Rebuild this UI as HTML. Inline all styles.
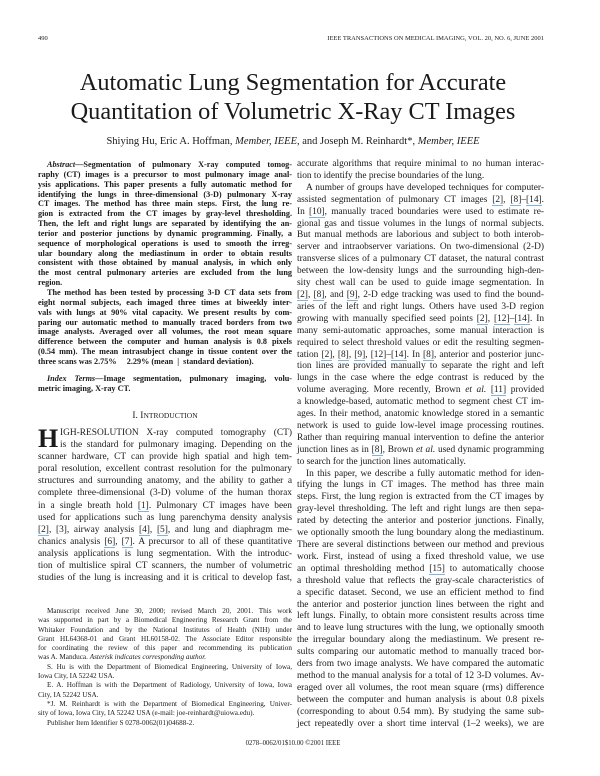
<!DOCTYPE html>
<html><head><meta charset="utf-8">
<style>
html,body{margin:0;padding:0;background:#fff;}
body{width:600px;height:776px;position:relative;overflow:hidden;font-family:"Liberation Serif",serif;color:#1a1a1a;}
.a{position:absolute;}
.c div{white-space:nowrap;text-align:justify;text-align-last:justify;}
.c div.e{text-align:left;text-align-last:left;}
.i{padding-left:9px;}
.r{border-bottom:1px solid #7fb3e0;}
</style></head><body>
<div class="a" style="left:38px;top:35px;font-size:6.5px;">490</div>
<div class="a" style="left:316px;top:35px;width:228px;font-size:6.5px;white-space:nowrap;text-align:right;">IEEE TRANSACTIONS ON MEDICAL IMAGING, VOL. 20, NO. 6, JUNE 2001</div>
<div class="a" style="left:0;width:586px;top:68px;font-size:24.3px;line-height:29px;text-align:center;">Automatic Lung Segmentation for Accurate<br>Quantitation of Volumetric X-Ray CT Images</div>
<div class="a" style="left:0;width:586px;top:136px;font-size:10.5px;text-align:center;white-space:nowrap;">Shiying Hu, Eric A. Hoffman, <i>Member, IEEE</i>, and Joseph M. Reinhardt*, <i>Member, IEEE</i></div>

<div class="a c" style="left:38px;top:160px;width:254px;font-size:8.2px;line-height:9.85px;font-weight:bold;">
<div class="i"><i>Abstract</i>—Segmentation of pulmonary X-ray computed tomog-</div>
<div>raphy (CT) images is a precursor to most pulmonary image anal-</div>
<div>ysis applications. This paper presents a fully automatic method for</div>
<div>identifying the lungs in three-dimensional (3-D) pulmonary X-ray</div>
<div>CT images. The method has three main steps. First, the lung re-</div>
<div>gion is extracted from the CT images by gray-level thresholding.</div>
<div>Then, the left and right lungs are separated by identifying the an-</div>
<div>terior and posterior junctions by dynamic programming. Finally, a</div>
<div>sequence of morphological operations is used to smooth the irreg-</div>
<div>ular boundary along the mediastinum in order to obtain results</div>
<div>consistent with those obtained by manual analysis, in which only</div>
<div>the most central pulmonary arteries are excluded from the lung</div>
<div class="e">region.</div>
<div class="i">The method has been tested by processing 3-D CT data sets from</div>
<div>eight normal subjects, each imaged three times at biweekly inter-</div>
<div>vals with lungs at 90% vital capacity. We present results by com-</div>
<div>paring our automatic method to manually traced borders from two</div>
<div>image analysts. Averaged over all volumes, the root mean square</div>
<div>difference between the computer and human analysis is 0.8 pixels</div>
<div>(0.54 mm). The mean intrasubject change in tissue content over the</div>
<div class="e">three scans was 2.75% &nbsp;&nbsp;&nbsp; 2.29% (mean &nbsp;|&nbsp; standard deviation).</div>
</div>
<div class="a c" style="left:38px;top:374px;width:254px;font-size:8.2px;line-height:10px;font-weight:bold;">
<div class="i"><i>Index Terms</i>—Image segmentation, pulmonary imaging, volu-</div>
<div class="e">metric imaging, X-ray CT.</div>
</div>
<div class="a" style="left:38px;width:254px;top:411px;font-size:9.5px;text-align:center;">I. I<span style="font-size:7.5px">NTRODUCTION</span></div>

<div class="a" style="left:38px;top:426px;font-size:26px;line-height:26px;font-weight:bold;">H</div>
<div class="a c" style="left:38px;top:427px;width:254px;font-size:9.4px;line-height:12.1px;">
<div style="padding-left:22px">IGH-RESOLUTION X-ray computed tomography (CT)</div>
<div style="padding-left:22px">is the standard for pulmonary imaging. Depending on the</div>
<div>scanner hardware, CT can provide high spatial and high tem-</div>
<div>poral resolution, excellent contrast resolution for the pulmonary</div>
<div>structures and surrounding anatomy, and the ability to gather a</div>
<div>complete three-dimensional (3-D) volume of the human thorax</div>
<div>in a single breath hold <span class="r">[1]</span>. Pulmonary CT images have been</div>
<div>used for applications such as lung parenchyma density analysis</div>
<div><span class="r">[2]</span>, [3], airway analysis <span class="r">[4]</span>, <span class="r">[5]</span>, and lung and diaphragm me-</div>
<div>chanics analysis <span class="r">[6]</span>, <span class="r">[7]</span>. A precursor to all of these quantitative</div>
<div>analysis applications is lung segmentation. With the introduc-</div>
<div>tion of multislice spiral CT scanners, the number of volumetric</div>
<div>studies of the lung is increasing and it is critical to develop fast,</div>
</div>

<div class="a c" style="left:38px;top:607px;width:254px;font-size:7.2px;line-height:9.3px;">
<div class="i">Manuscript received June 30, 2000; revised March 20, 2001. This work</div>
<div>was supported in part by a Biomedical Engineering Research Grant from the</div>
<div>Whitaker Foundation and by the National Institutes of Health (NIH) under</div>
<div>Grant HL64368-01 and Grant HL60158-02. The Associate Editor responsible</div>
<div>for coordinating the review of this paper and recommending its publication</div>
<div class="e">was A. Manduca. <i>Asterisk indicates corresponding author.</i></div>
<div class="i">S. Hu is with the Department of Biomedical Engineering, University of Iowa,</div>
<div class="e">Iowa City, IA 52242 USA.</div>
<div class="i">E. A. Hoffman is with the Department of Radiology, University of Iowa, Iowa</div>
<div class="e">City, IA 52242 USA.</div>
<div class="i">*J. M. Reinhardt is with the Department of Biomedical Engineering, Univer-</div>
<div class="e">sity of Iowa, Iowa City, IA 52242 USA (e-mail: joe-reinhardt@uiowa.edu).</div>
<div class="e i">Publisher Item Identifier S 0278-0062(01)04688-2.</div>
</div>

<div class="a c" style="left:297px;top:159px;width:247px;font-size:9.4px;line-height:11.9px;">
<div>accurate algorithms that require minimal to no human interac-</div>
<div class="e">tion to identify the precise boundaries of the lung.</div>
<div class="i">A number of groups have developed techniques for computer-</div>
<div>assisted segmentation of pulmonary CT images <span class="r">[2]</span>, <span class="r">[8]</span>–<span class="r">[14]</span>.</div>
<div>In <span class="r">[10]</span>, manually traced boundaries were used to estimate re-</div>
<div>gional gas and tissue volumes in the lungs of normal subjects.</div>
<div>But manual methods are laborious and subject to both interob-</div>
<div>server and intraobserver variations. On two-dimensional (2-D)</div>
<div>transverse slices of a pulmonary CT dataset, the natural contrast</div>
<div>between the low-density lungs and the surrounding high-den-</div>
<div>sity chest wall can be used to guide image segmentation. In</div>
<div><span class="r">[2]</span>, <span class="r">[8]</span>, and <span class="r">[9]</span>, 2-D edge tracking was used to find the bound-</div>
<div>aries of the left and right lungs. Others have used 3-D region</div>
<div>growing with manually specified seed points <span class="r">[2]</span>, <span class="r">[12]</span>–<span class="r">[14]</span>. In</div>
<div>many semi-automatic approaches, some manual interaction is</div>
<div>required to select threshold values or edit the resulting segmen-</div>
<div>tation <span class="r">[2]</span>, <span class="r">[8]</span>, <span class="r">[9]</span>, <span class="r">[12]</span>–<span class="r">[14]</span>. In <span class="r">[8]</span>, anterior and posterior junc-</div>
<div>tion lines are provided manually to separate the right and left</div>
<div>lungs in the case where the edge contrast is reduced by the</div>
<div>volume averaging. More recently, Brown <i>et al.</i> <span class="r">[11]</span> provided</div>
<div>a knowledge-based, automatic method to segment chest CT im-</div>
<div>ages. In their method, anatomic knowledge stored in a semantic</div>
<div>network is used to guide low-level image processing routines.</div>
<div>Rather than requiring manual intervention to define the anterior</div>
<div>junction lines as in <span class="r">[8]</span>, Brown <i>et al.</i> used dynamic programming</div>
<div class="e">to search for the junction lines automatically.</div>
<div class="i">In this paper, we describe a fully automatic method for iden-</div>
<div>tifying the lungs in CT images. The method has three main</div>
<div>steps. First, the lung region is extracted from the CT images by</div>
<div>gray-level thresholding. The left and right lungs are then sepa-</div>
<div>rated by detecting the anterior and posterior junctions. Finally,</div>
<div>we optionally smooth the lung boundary along the mediastinum.</div>
<div>There are several distinctions between our method and previous</div>
<div>work. First, instead of using a fixed threshold value, we use</div>
<div>an optimal thresholding method <span class="r">[15]</span> to automatically choose</div>
<div>a threshold value that reflects the gray-scale characteristics of</div>
<div>a specific dataset. Second, we use an efficient method to find</div>
<div>the anterior and posterior junction lines between the right and</div>
<div>left lungs. Finally, to obtain more consistent results across time</div>
<div>and to leave lung structures with the lung, we optionally smooth</div>
<div>the irregular boundary along the mediastinum. We present re-</div>
<div>sults comparing our automatic method to manually traced bor-</div>
<div>ders from two image analysts. We have compared the automatic</div>
<div>method to the manual analysis for a total of 12 3-D volumes. Av-</div>
<div>eraged over all volumes, the root mean square (rms) difference</div>
<div>between the computer and human analysis is about 0.8 pixels</div>
<div>(corresponding to about 0.54 mm). By studying the same sub-</div>
<div>ject repeatedly over a short time interval (1–2 weeks), we are</div>
</div>

<div class="a" style="left:0;width:586px;top:740px;font-size:6.8px;text-align:center;">0278–0062/01$10.00 ©2001 IEEE</div>
</body></html>
